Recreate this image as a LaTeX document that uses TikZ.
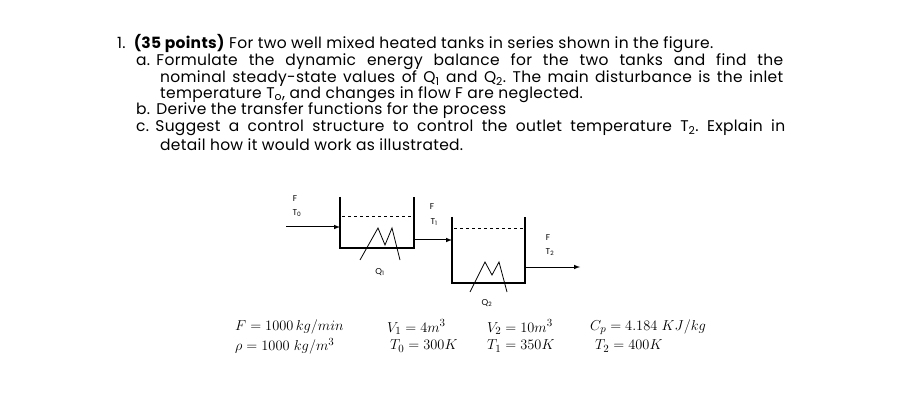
\documentclass[tikz,border=0pt]{standalone}
\usepackage{fontspec}
\setmainfont{Poppins}[LetterSpace=2]
\usepackage{amsmath}
\frenchspacing
\begin{document}
\begin{tikzpicture}[x=1pt,y=-1pt,
  txt/.style={anchor=west,inner sep=0pt,font=\fontsize{15.5}{17}\selectfont},
  lbl/.style={inner sep=0pt,font=\fontsize{8.5}{9}\selectfont},
  eq/.style={anchor=west,inner sep=0pt,font=\fontsize{15}{16}\selectfont},
  wall/.style={line width=1.1pt},
  flow/.style={line width=1pt,-latex}]
\useasboundingbox[fill=white] (0,0) rectangle (914,409);
\node[txt] (l1) at (117,44) {1.\hspace{0.5em}\textbf{(35 points)} For two well mixed heated tanks in series shown in the figure.};
\node[txt] (la) at (136,62) {\makebox[647pt][s]{a.\hspace{0.4em}Formulate the dynamic energy balance for the two tanks and find the}};
\node[txt] (la2) at (160,79) {\makebox[623pt][s]{nominal steady-state values of Q\textsubscript{1} and Q\textsubscript{2}. The main disturbance is the inlet}};
\node[txt] (la3) at (160,95) {temperature T\textsubscript{o}, and changes in flow F are neglected.};
\node[txt] (lb) at (136,111) {b.\hspace{0.4em}Derive the transfer functions for the process};
\node[txt] (lc) at (136,128) {\makebox[649pt][s]{c.\hspace{0.4em}Suggest a control structure to control the outlet temperature T\textsubscript{2}. Explain in}};
\node[txt] (lc2) at (160,145) {detail how it would work as illustrated.};
% tank 1
\draw[wall] (340,197) -- (340,248) -- (414,248) -- (414,197);
\draw[dashed,thick] (342,216) -- (412,216);
\draw[thick] (360,260) -- (378,228) -- (385,245) -- (392,228) -- (400,260);
\coordinate (in1) at (286,227);
\coordinate (t1in) at (340,227);
\draw[flow] (in1) -- (t1in);
\node[lbl] (f0) at (295,199) {F};
\node[lbl] (tt0) at (297,213) {T\textsubscript{0}};
\node[lbl] (q1) at (380,272) {Q\textsubscript{1}};
% tank 2
\draw[wall] (452,217) -- (452,283) -- (525,283) -- (525,217);
\draw[dashed,thick] (454,228) -- (523,228);
\draw[thick] (470,292) -- (485,262) -- (492,275) -- (499,262) -- (507,292);
\coordinate (o1) at (414,240);
\coordinate (t2in) at (452,240);
\draw[flow] (o1) -- (t2in);
\node[lbl] (f1) at (432,207) {F};
\node[lbl] (tt1) at (434,222) {T\textsubscript{1}};
\coordinate (o2) at (525,267);
\coordinate (out2) at (580,267);
\draw[flow] (o2) -- (out2);
\node[lbl] (f2) at (548,238) {F};
\node[lbl] (tt2) at (550,252) {T\textsubscript{2}};
\node[lbl] (q2) at (487,303) {Q\textsubscript{2}};
% equations
\node[eq] (e1) at (235,327) {$F = 1000\,kg/min$};
\node[eq] (e2) at (387,327) {$V_1 = 4m^3$};
\node[eq] (e3) at (487,327) {$V_2 = 10m^3$};
\node[eq] (e4) at (590,327) {$C_p = 4.184\ KJ/kg$};
\node[eq] (e5) at (235,346) {$\rho = 1000\ kg/m^3$};
\node[eq] (e6) at (390,346) {$T_0 = 300K$};
\node[eq] (e7) at (487,346) {$T_1 = 350K$};
\node[eq] (e8) at (595,346) {$T_2 = 400K$};
\end{tikzpicture}
\end{document}
